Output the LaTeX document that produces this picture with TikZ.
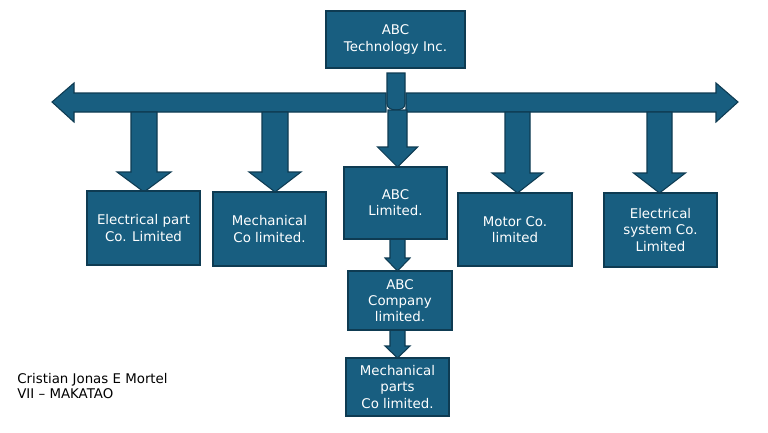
\documentclass[tikz,border=0pt]{standalone}
\usepackage{fontspec}
\setmainfont{DejaVu Sans}
\definecolor{boxblue}{HTML}{185E80}
\definecolor{boxedge}{HTML}{0E3B52}
\tikzset{
  box/.style = {draw = boxedge, fill = boxblue, text = white, line width = .6pt,
    align = center, font = \fontsize{7.6}{9.2}\selectfont, inner sep = 0pt},
  arrowfill/.style = {draw = boxedge, fill = boxblue, line width = .6pt},
}
% down arrow: centre x, top y, bottom y, shaft half, head half, head length
\newcommand{\downarr}[6]{%
  \draw[arrowfill] (#1-#4,#2) -- (#1+#4,#2) -- (#1+#4,#3-#6) -- (#1+#5,#3-#6)
    -- (#1,#3) -- (#1-#5,#3-#6) -- (#1-#4,#3-#6) -- cycle;}
\begin{document}
\begin{tikzpicture}[x = .02cm, y = -.02cm]
\useasboundingbox (0,0) rectangle (768,433);

% horizontal bar
\draw[arrowfill] (386,93) -- (74,93) -- (74,83) -- (52,102) -- (74,122) -- (74,112) -- (386,112) -- cycle;
\draw[arrowfill] (406,93) -- (716,93) -- (716,83) -- (738,102) -- (716,122) -- (716,112) -- (406,112) -- cycle;
\draw[arrowfill] (387,73) -- (405,73) -- (405,104) .. controls (405,112) and (387,112) .. (387,104) -- cycle;

% arrows down
\downarr{397.5}{110}{167}{9.5}{20}{20}
\downarr{144}{112}{192}{13}{27}{20}
\downarr{275}{112}{192}{13}{26}{20}
\downarr{517.5}{112}{193}{12.5}{25.5}{20}
\downarr{659.5}{112}{193}{12.5}{26}{20}
\downarr{397.5}{239}{271}{7.5}{12.5}{13}
\downarr{397.5}{330}{358}{7.5}{12.5}{12}

% boxes
\node[box, minimum width = 2.78cm, minimum height = 1.14cm] (top) at (395.5,39.5) {ABC\\Technology Inc.};
\node[box, minimum width = 2.26cm, minimum height = 1.48cm] (elec) at (143.5,228) {Electrical part\\Co. Limited};
\node[box, minimum width = 2.26cm, minimum height = 1.48cm] (mech) at (269.5,229) {Mechanical\\Co limited.};
\node[box, minimum width = 2.06cm, minimum height = 1.44cm] (abcl) at (395.5,203) {ABC\\Limited.};
\node[box, minimum width = 2.28cm, minimum height = 1.46cm] (motor) at (515,229.5) {Motor Co.\\limited};
\node[box, minimum width = 2.26cm, minimum height = 1.48cm] (esys) at (660.5,230) {Electrical\\system Co.\\Limited};
\node[box, minimum width = 2.08cm, minimum height = 1.18cm] (abcc) at (400,300.5) {ABC\\Company\\limited.};
\node[box, minimum width = 2.06cm, minimum height = 1.16cm] (parts) at (397.5,387) {Mechanical\\parts\\Co limited.};

% author
\node[anchor = north west, align = left, inner sep = 0pt, font = \fontsize{7.6}{8.6}\selectfont] (name) at (17,373) {Cristian Jonas E Mortel\\VII -- MAKATAO};
\end{tikzpicture}
\end{document}
